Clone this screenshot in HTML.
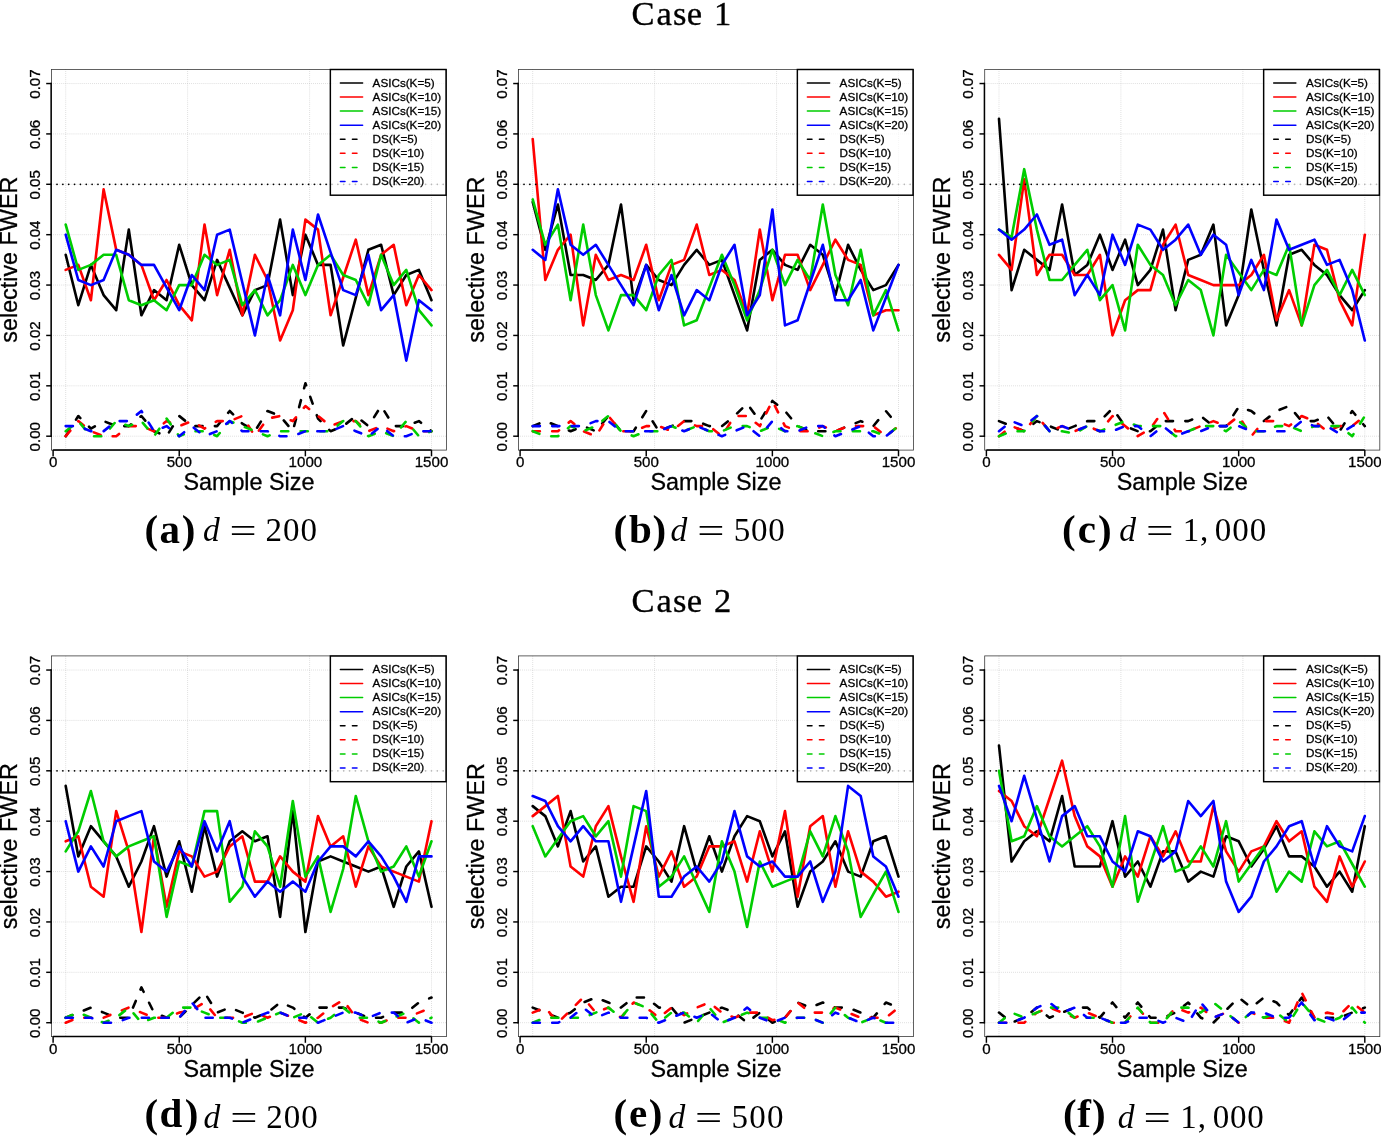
<!DOCTYPE html>
<html><head><meta charset="utf-8"><title>Selective FWER</title>
<style>
html,body{margin:0;padding:0;background:#fff}
svg{display:block}
.sans{font-family:"Liberation Sans",Arial,sans-serif;fill:#000}
.serif{font-family:"Liberation Serif","DejaVu Serif",serif;fill:#000}
.grid{stroke:#b4b4b4;stroke-width:0.75;stroke-dasharray:0.55 1.48;fill:none}
.s{fill:none;stroke-width:2.62;stroke-linejoin:round;stroke-linecap:round}
.d{fill:none;stroke-width:2.6;stroke-linejoin:round;stroke-linecap:round;stroke-dasharray:7.2 12.3}
.ax{stroke:#000;stroke-width:1.46;fill:none}
.tk{font-size:15.1px;stroke:#000;stroke-width:0.3px}
.lab{font-size:23.35px;stroke:#000;stroke-width:0.3px}
.lg{font-size:11.7px;stroke:#000;stroke-width:0.3px}
</style></head><body>
<svg width="1381" height="1141" viewBox="0 0 1381 1141">
<rect width="1381" height="1141" fill="#fff"/>
<text class="serif" font-size="34.5px" stroke="#000" stroke-width="0.35" y="25.2" x="631.6 656.4 672.9 686.8 705 714.1">Case 1</text>
<g transform="translate(0,0)">
<line class="grid" x1="51.4" x2="446.5" y1="436.20" y2="436.20"/><line class="grid" x1="51.4" x2="446.5" y1="385.82" y2="385.82"/><line class="grid" x1="51.4" x2="446.5" y1="335.44" y2="335.44"/><line class="grid" x1="51.4" x2="446.5" y1="285.06" y2="285.06"/><line class="grid" x1="51.4" x2="446.5" y1="234.68" y2="234.68"/><line class="grid" x1="51.4" x2="446.5" y1="184.30" y2="184.30"/><line class="grid" x1="51.4" x2="446.5" y1="133.92" y2="133.92"/><line class="grid" x1="51.4" x2="446.5" y1="83.54" y2="83.54"/><line class="grid" x1="65.7" x2="65.7" y1="69.4" y2="450.1"/><line class="grid" x1="187.6" x2="187.6" y1="69.4" y2="450.1"/><line class="grid" x1="309.6" x2="309.6" y1="69.4" y2="450.1"/><line class="grid" x1="431.5" x2="431.5" y1="69.4" y2="450.1"/>
<rect x="51.4" y="69.4" width="395.1" height="380.70000000000005" fill="none" stroke="#3a3a3a" stroke-width="0.8"/>
<polyline class="s" stroke="#000000" points="65.7,254.8 78.3,305.2 90.9,264.9 103.6,295.1 116.2,310.2 128.8,229.6 141.4,315.3 154.0,290.1 166.6,300.2 179.2,244.8 191.8,285.1 204.5,300.2 217.1,259.9 229.7,287.6 242.3,315.3 254.9,290.1 267.5,285.1 280.1,219.6 292.8,295.1 305.4,234.7 318.0,264.9 330.6,264.9 343.2,345.5 355.8,297.7 368.4,249.8 381.1,244.8 393.7,295.1 406.3,275.0 418.9,269.9 431.5,300.2"/>
<polyline class="s" stroke="#ff0000" points="65.7,269.9 78.3,264.9 90.9,300.2 103.6,189.3 116.2,249.8 128.8,254.8 141.4,264.9 154.0,300.2 166.6,280.0 179.2,305.2 191.8,320.3 204.5,224.6 217.1,295.1 229.7,249.8 242.3,315.3 254.9,254.8 267.5,280.0 280.1,340.5 292.8,310.2 305.4,219.6 318.0,229.6 330.6,315.3 343.2,277.5 355.8,239.7 368.4,295.1 381.1,254.8 393.7,244.8 406.3,305.2 418.9,275.0 431.5,290.1"/>
<polyline class="s" stroke="#00cd00" points="65.7,224.6 78.3,269.9 90.9,264.9 103.6,254.8 116.2,254.8 128.8,300.2 141.4,305.2 154.0,300.2 166.6,310.2 179.2,285.1 191.8,285.1 204.5,254.8 217.1,264.9 229.7,259.9 242.3,305.2 254.9,290.1 267.5,315.3 280.1,300.2 292.8,264.9 305.4,295.1 318.0,264.9 330.6,254.8 343.2,275.0 355.8,280.0 368.4,305.2 381.1,254.8 393.7,285.1 406.3,269.9 418.9,310.2 431.5,325.4"/>
<polyline class="s" stroke="#0000ff" points="65.7,234.7 78.3,280.0 90.9,285.1 103.6,280.0 116.2,249.8 128.8,254.8 141.4,264.9 154.0,264.9 166.6,287.6 179.2,310.2 191.8,275.0 204.5,290.1 217.1,234.7 229.7,229.6 242.3,282.5 254.9,335.4 267.5,275.0 280.1,315.3 292.8,229.6 305.4,280.0 318.0,214.5 330.6,252.3 343.2,290.1 355.8,295.1 368.4,254.8 381.1,310.2 393.7,295.1 406.3,360.6 418.9,300.2 431.5,310.2"/>
<polyline class="d" stroke="#000000" points="65.7,436.2 78.3,416.0 90.9,428.6 103.6,421.1 116.2,426.1 128.8,426.1 141.4,416.0 154.0,431.2 166.6,436.2 179.2,416.0 191.8,426.1 204.5,426.1 217.1,426.1 229.7,411.0 242.3,423.6 254.9,431.2 267.5,411.0 280.1,416.0 292.8,431.2 305.4,383.3 318.0,418.6 330.6,431.2 343.2,426.1 355.8,416.0 368.4,426.1 381.1,406.0 393.7,426.1 406.3,426.1 418.9,421.1 431.5,431.2"/>
<polyline class="d" stroke="#ff0000" points="65.7,436.2 78.3,421.1 90.9,431.2 103.6,436.2 116.2,436.2 128.8,426.1 141.4,426.1 154.0,431.2 166.6,421.1 179.2,426.1 191.8,421.1 204.5,428.6 217.1,421.1 229.7,421.1 242.3,416.0 254.9,436.2 267.5,418.6 280.1,416.0 292.8,421.1 305.4,406.0 318.0,416.0 330.6,426.1 343.2,421.1 355.8,421.1 368.4,431.2 381.1,426.1 393.7,431.2 406.3,426.1 418.9,431.2 431.5,431.2"/>
<polyline class="d" stroke="#00cd00" points="65.7,431.2 78.3,421.1 90.9,436.2 103.6,436.2 116.2,421.1 128.8,426.1 141.4,421.1 154.0,436.2 166.6,418.6 179.2,436.2 191.8,431.2 204.5,431.2 217.1,436.2 229.7,421.1 242.3,426.1 254.9,431.2 267.5,436.2 280.1,431.2 292.8,431.2 305.4,431.2 318.0,431.2 330.6,431.2 343.2,421.1 355.8,421.1 368.4,436.2 381.1,431.2 393.7,436.2 406.3,421.1 418.9,436.2 431.5,431.2"/>
<polyline class="d" stroke="#0000ff" points="65.7,426.1 78.3,426.1 90.9,431.2 103.6,431.2 116.2,421.1 128.8,421.1 141.4,411.0 154.0,431.2 166.6,426.1 179.2,436.2 191.8,426.1 204.5,436.2 217.1,431.2 229.7,421.1 242.3,431.2 254.9,431.2 267.5,431.2 280.1,436.2 292.8,436.2 305.4,431.2 318.0,431.2 330.6,431.2 343.2,426.1 355.8,431.2 368.4,436.2 381.1,426.1 393.7,436.2 406.3,436.2 418.9,431.2 431.5,431.2"/>
<line x1="51.15" x2="446.5" y1="184.30" y2="184.30" stroke="#000" stroke-width="1.75" stroke-linecap="round" stroke-dasharray="0.01 5.841"/>
<rect x="330.35" y="69.5" width="115.7" height="125.7" fill="#fff" fill-opacity="0.72" stroke="#000" stroke-width="1.46"/>
<line x1="340.4" x2="362.6" y1="83.0" y2="83.0" stroke="#000000" stroke-width="1.5" stroke-linecap="round"/><text class="sans lg" transform="translate(372.6,86.5)">ASICs(K=5)</text>
<line x1="340.4" x2="362.6" y1="97.1" y2="97.1" stroke="#ff0000" stroke-width="1.5" stroke-linecap="round"/><text class="sans lg" transform="translate(372.6,100.6)">ASICs(K=10)</text>
<line x1="340.4" x2="362.6" y1="111.1" y2="111.1" stroke="#00cd00" stroke-width="1.5" stroke-linecap="round"/><text class="sans lg" transform="translate(372.6,114.6)">ASICs(K=15)</text>
<line x1="340.4" x2="362.6" y1="125.2" y2="125.2" stroke="#0000ff" stroke-width="1.5" stroke-linecap="round"/><text class="sans lg" transform="translate(372.6,128.7)">ASICs(K=20)</text>
<line x1="340.4" x2="362.6" y1="139.2" y2="139.2" stroke="#000000" stroke-width="1.5" stroke-linecap="round" stroke-dasharray="4.6 7.4"/><text class="sans lg" transform="translate(372.6,142.7)">DS(K=5)</text>
<line x1="340.4" x2="362.6" y1="153.3" y2="153.3" stroke="#ff0000" stroke-width="1.5" stroke-linecap="round" stroke-dasharray="4.6 7.4"/><text class="sans lg" transform="translate(372.6,156.8)">DS(K=10)</text>
<line x1="340.4" x2="362.6" y1="167.4" y2="167.4" stroke="#00cd00" stroke-width="1.5" stroke-linecap="round" stroke-dasharray="4.6 7.4"/><text class="sans lg" transform="translate(372.6,170.9)">DS(K=15)</text>
<line x1="340.4" x2="362.6" y1="181.4" y2="181.4" stroke="#0000ff" stroke-width="1.5" stroke-linecap="round" stroke-dasharray="4.6 7.4"/><text class="sans lg" transform="translate(372.6,184.9)">DS(K=20)</text>
<path class="ax" d="M51.1 436.90V82.84"/><path class="ax" d="M46.199999999999996 436.20H51.4"/><text class="sans tk" text-anchor="middle" transform="translate(40.1,436.70) rotate(-90)">0.00</text><path class="ax" d="M46.199999999999996 385.82H51.4"/><text class="sans tk" text-anchor="middle" transform="translate(40.1,386.32) rotate(-90)">0.01</text><path class="ax" d="M46.199999999999996 335.44H51.4"/><text class="sans tk" text-anchor="middle" transform="translate(40.1,335.94) rotate(-90)">0.02</text><path class="ax" d="M46.199999999999996 285.06H51.4"/><text class="sans tk" text-anchor="middle" transform="translate(40.1,285.56) rotate(-90)">0.03</text><path class="ax" d="M46.199999999999996 234.68H51.4"/><text class="sans tk" text-anchor="middle" transform="translate(40.1,235.18) rotate(-90)">0.04</text><path class="ax" d="M46.199999999999996 184.30H51.4"/><text class="sans tk" text-anchor="middle" transform="translate(40.1,184.80) rotate(-90)">0.05</text><path class="ax" d="M46.199999999999996 133.92H51.4"/><text class="sans tk" text-anchor="middle" transform="translate(40.1,134.42) rotate(-90)">0.06</text><path class="ax" d="M46.199999999999996 83.54H51.4"/><text class="sans tk" text-anchor="middle" transform="translate(40.1,84.04) rotate(-90)">0.07</text>
<path class="ax" d="M53.10 450.1H431.50"/><path class="ax" d="M53.10 450.1v6.2"/><text class="sans tk" text-anchor="middle" transform="translate(53.10,467.4)">0</text><path class="ax" d="M179.23 450.1v6.2"/><text class="sans tk" text-anchor="middle" transform="translate(179.23,467.4)">500</text><path class="ax" d="M305.37 450.1v6.2"/><text class="sans tk" text-anchor="middle" transform="translate(305.37,467.4)">1000</text><path class="ax" d="M431.50 450.1v6.2"/><text class="sans tk" text-anchor="middle" transform="translate(431.50,467.4)">1500</text>
<text class="sans lab" text-anchor="middle" transform="translate(248.9,490)">Sample Size</text>
<text class="sans lab" text-anchor="middle" transform="translate(17.0,259.7) rotate(-90)">selective FWER</text>
<text class="serif" font-size="41.0px" font-weight="bold" y="543.2" x="144.56 159.50 181.81">(a)</text><text class="serif" font-size="33.6px" font-style="italic" x="202.90" y="541.3">d</text><text class="serif" font-size="36.5px" transform="translate(229.47,543.40) scale(1.318,1)">=</text><text class="serif" font-size="33px" letter-spacing="1.01" x="265.58" y="541.3">200</text>
</g>
<g transform="translate(467,0)">
<line class="grid" x1="51.4" x2="446.5" y1="436.20" y2="436.20"/><line class="grid" x1="51.4" x2="446.5" y1="385.82" y2="385.82"/><line class="grid" x1="51.4" x2="446.5" y1="335.44" y2="335.44"/><line class="grid" x1="51.4" x2="446.5" y1="285.06" y2="285.06"/><line class="grid" x1="51.4" x2="446.5" y1="234.68" y2="234.68"/><line class="grid" x1="51.4" x2="446.5" y1="184.30" y2="184.30"/><line class="grid" x1="51.4" x2="446.5" y1="133.92" y2="133.92"/><line class="grid" x1="51.4" x2="446.5" y1="83.54" y2="83.54"/><line class="grid" x1="65.7" x2="65.7" y1="69.4" y2="450.1"/><line class="grid" x1="187.6" x2="187.6" y1="69.4" y2="450.1"/><line class="grid" x1="309.6" x2="309.6" y1="69.4" y2="450.1"/><line class="grid" x1="431.5" x2="431.5" y1="69.4" y2="450.1"/>
<rect x="51.4" y="69.4" width="395.1" height="380.70000000000005" fill="none" stroke="#3a3a3a" stroke-width="0.8"/>
<polyline class="s" stroke="#000000" points="65.7,201.9 78.3,249.8 90.9,204.5 103.6,275.0 116.2,275.0 128.8,280.0 141.4,264.9 154.0,204.5 166.6,300.2 179.2,264.9 191.8,280.0 204.5,285.1 217.1,264.9 229.7,249.8 242.3,264.9 254.9,259.9 267.5,295.1 280.1,330.4 292.8,259.9 305.4,249.8 318.0,264.9 330.6,269.9 343.2,244.8 355.8,254.8 368.4,295.1 381.1,244.8 393.7,269.9 406.3,290.1 418.9,285.1 431.5,264.9"/>
<polyline class="s" stroke="#ff0000" points="65.7,139.0 78.3,280.0 90.9,249.8 103.6,234.7 116.2,325.4 128.8,254.8 141.4,280.0 154.0,275.0 166.6,280.0 179.2,244.8 191.8,300.2 204.5,264.9 217.1,259.9 229.7,224.6 242.3,275.0 254.9,269.9 267.5,280.0 280.1,315.3 292.8,229.6 305.4,300.2 318.0,254.8 330.6,254.8 343.2,290.1 355.8,264.9 368.4,239.7 381.1,259.9 393.7,264.9 406.3,315.3 418.9,310.2 431.5,310.2"/>
<polyline class="s" stroke="#00cd00" points="65.7,199.4 78.3,244.8 90.9,224.6 103.6,300.2 116.2,224.6 128.8,295.1 141.4,330.4 154.0,295.1 166.6,295.1 179.2,310.2 191.8,275.0 204.5,259.9 217.1,325.4 229.7,320.3 242.3,287.6 254.9,254.8 267.5,285.1 280.1,320.3 292.8,290.1 305.4,249.8 318.0,285.1 330.6,259.9 343.2,280.0 355.8,204.5 368.4,275.0 381.1,305.2 393.7,249.8 406.3,315.3 418.9,290.1 431.5,330.4"/>
<polyline class="s" stroke="#0000ff" points="65.7,249.8 78.3,259.9 90.9,189.3 103.6,244.8 116.2,254.8 128.8,244.8 141.4,264.9 154.0,285.1 166.6,305.2 179.2,264.9 191.8,310.2 204.5,275.0 217.1,315.3 229.7,290.1 242.3,300.2 254.9,264.9 267.5,244.8 280.1,315.3 292.8,295.1 305.4,209.5 318.0,325.4 330.6,320.3 343.2,282.5 355.8,244.8 368.4,300.2 381.1,300.2 393.7,280.0 406.3,330.4 418.9,297.7 431.5,264.9"/>
<polyline class="d" stroke="#000000" points="65.7,426.1 78.3,421.1 90.9,426.1 103.6,431.2 116.2,426.1 128.8,431.2 141.4,416.0 154.0,431.2 166.6,431.2 179.2,411.0 191.8,431.2 204.5,426.1 217.1,421.1 229.7,421.1 242.3,426.1 254.9,426.1 267.5,416.0 280.1,403.5 292.8,421.1 305.4,400.9 318.0,411.0 330.6,426.1 343.2,431.2 355.8,431.2 368.4,431.2 381.1,426.1 393.7,421.1 406.3,426.1 418.9,411.0 431.5,426.1"/>
<polyline class="d" stroke="#ff0000" points="65.7,431.2 78.3,431.2 90.9,431.2 103.6,421.1 116.2,431.2 128.8,436.2 141.4,416.0 154.0,431.2 166.6,431.2 179.2,426.1 191.8,426.1 204.5,431.2 217.1,421.1 229.7,426.1 242.3,426.1 254.9,436.2 267.5,416.0 280.1,416.0 292.8,426.1 305.4,400.9 318.0,426.1 330.6,431.2 343.2,431.2 355.8,426.1 368.4,431.2 381.1,426.1 393.7,426.1 406.3,426.1 418.9,436.2 431.5,426.1"/>
<polyline class="d" stroke="#00cd00" points="65.7,431.2 78.3,436.2 90.9,436.2 103.6,426.1 116.2,431.2 128.8,426.1 141.4,416.0 154.0,431.2 166.6,436.2 179.2,431.2 191.8,431.2 204.5,426.1 217.1,431.2 229.7,426.1 242.3,431.2 254.9,431.2 267.5,426.1 280.1,426.1 292.8,431.2 305.4,426.1 318.0,431.2 330.6,426.1 343.2,431.2 355.8,436.2 368.4,431.2 381.1,431.2 393.7,431.2 406.3,431.2 418.9,436.2 431.5,426.1"/>
<polyline class="d" stroke="#0000ff" points="65.7,426.1 78.3,426.1 90.9,426.1 103.6,426.1 116.2,426.1 128.8,421.1 141.4,421.1 154.0,431.2 166.6,431.2 179.2,431.2 191.8,431.2 204.5,426.1 217.1,431.2 229.7,426.1 242.3,431.2 254.9,436.2 267.5,431.2 280.1,426.1 292.8,436.2 305.4,421.1 318.0,431.2 330.6,431.2 343.2,426.1 355.8,426.1 368.4,436.2 381.1,431.2 393.7,426.1 406.3,436.2 418.9,436.2 431.5,426.1"/>
<line x1="51.15" x2="446.5" y1="184.30" y2="184.30" stroke="#000" stroke-width="1.75" stroke-linecap="round" stroke-dasharray="0.01 5.841"/>
<rect x="330.35" y="69.5" width="115.7" height="125.7" fill="#fff" fill-opacity="0.72" stroke="#000" stroke-width="1.46"/>
<line x1="340.4" x2="362.6" y1="83.0" y2="83.0" stroke="#000000" stroke-width="1.5" stroke-linecap="round"/><text class="sans lg" transform="translate(372.6,86.5)">ASICs(K=5)</text>
<line x1="340.4" x2="362.6" y1="97.1" y2="97.1" stroke="#ff0000" stroke-width="1.5" stroke-linecap="round"/><text class="sans lg" transform="translate(372.6,100.6)">ASICs(K=10)</text>
<line x1="340.4" x2="362.6" y1="111.1" y2="111.1" stroke="#00cd00" stroke-width="1.5" stroke-linecap="round"/><text class="sans lg" transform="translate(372.6,114.6)">ASICs(K=15)</text>
<line x1="340.4" x2="362.6" y1="125.2" y2="125.2" stroke="#0000ff" stroke-width="1.5" stroke-linecap="round"/><text class="sans lg" transform="translate(372.6,128.7)">ASICs(K=20)</text>
<line x1="340.4" x2="362.6" y1="139.2" y2="139.2" stroke="#000000" stroke-width="1.5" stroke-linecap="round" stroke-dasharray="4.6 7.4"/><text class="sans lg" transform="translate(372.6,142.7)">DS(K=5)</text>
<line x1="340.4" x2="362.6" y1="153.3" y2="153.3" stroke="#ff0000" stroke-width="1.5" stroke-linecap="round" stroke-dasharray="4.6 7.4"/><text class="sans lg" transform="translate(372.6,156.8)">DS(K=10)</text>
<line x1="340.4" x2="362.6" y1="167.4" y2="167.4" stroke="#00cd00" stroke-width="1.5" stroke-linecap="round" stroke-dasharray="4.6 7.4"/><text class="sans lg" transform="translate(372.6,170.9)">DS(K=15)</text>
<line x1="340.4" x2="362.6" y1="181.4" y2="181.4" stroke="#0000ff" stroke-width="1.5" stroke-linecap="round" stroke-dasharray="4.6 7.4"/><text class="sans lg" transform="translate(372.6,184.9)">DS(K=20)</text>
<path class="ax" d="M51.1 436.90V82.84"/><path class="ax" d="M46.199999999999996 436.20H51.4"/><text class="sans tk" text-anchor="middle" transform="translate(40.1,436.70) rotate(-90)">0.00</text><path class="ax" d="M46.199999999999996 385.82H51.4"/><text class="sans tk" text-anchor="middle" transform="translate(40.1,386.32) rotate(-90)">0.01</text><path class="ax" d="M46.199999999999996 335.44H51.4"/><text class="sans tk" text-anchor="middle" transform="translate(40.1,335.94) rotate(-90)">0.02</text><path class="ax" d="M46.199999999999996 285.06H51.4"/><text class="sans tk" text-anchor="middle" transform="translate(40.1,285.56) rotate(-90)">0.03</text><path class="ax" d="M46.199999999999996 234.68H51.4"/><text class="sans tk" text-anchor="middle" transform="translate(40.1,235.18) rotate(-90)">0.04</text><path class="ax" d="M46.199999999999996 184.30H51.4"/><text class="sans tk" text-anchor="middle" transform="translate(40.1,184.80) rotate(-90)">0.05</text><path class="ax" d="M46.199999999999996 133.92H51.4"/><text class="sans tk" text-anchor="middle" transform="translate(40.1,134.42) rotate(-90)">0.06</text><path class="ax" d="M46.199999999999996 83.54H51.4"/><text class="sans tk" text-anchor="middle" transform="translate(40.1,84.04) rotate(-90)">0.07</text>
<path class="ax" d="M53.10 450.1H431.50"/><path class="ax" d="M53.10 450.1v6.2"/><text class="sans tk" text-anchor="middle" transform="translate(53.10,467.4)">0</text><path class="ax" d="M179.23 450.1v6.2"/><text class="sans tk" text-anchor="middle" transform="translate(179.23,467.4)">500</text><path class="ax" d="M305.37 450.1v6.2"/><text class="sans tk" text-anchor="middle" transform="translate(305.37,467.4)">1000</text><path class="ax" d="M431.50 450.1v6.2"/><text class="sans tk" text-anchor="middle" transform="translate(431.50,467.4)">1500</text>
<text class="sans lab" text-anchor="middle" transform="translate(248.9,490)">Sample Size</text>
<text class="sans lab" text-anchor="middle" transform="translate(17.0,259.7) rotate(-90)">selective FWER</text>
<text class="serif" font-size="41.0px" font-weight="bold" y="543.2" x="146.46 162.04 185.41">(b)</text><text class="serif" font-size="33.6px" font-style="italic" x="203.60" y="541.3">d</text><text class="serif" font-size="36.5px" transform="translate(230.17,543.40) scale(1.324,1)">=</text><text class="serif" font-size="33px" letter-spacing="0.82" x="266.65" y="541.3">500</text>
</g>
<g transform="translate(933.3,0)">
<line class="grid" x1="51.4" x2="446.5" y1="436.20" y2="436.20"/><line class="grid" x1="51.4" x2="446.5" y1="385.82" y2="385.82"/><line class="grid" x1="51.4" x2="446.5" y1="335.44" y2="335.44"/><line class="grid" x1="51.4" x2="446.5" y1="285.06" y2="285.06"/><line class="grid" x1="51.4" x2="446.5" y1="234.68" y2="234.68"/><line class="grid" x1="51.4" x2="446.5" y1="184.30" y2="184.30"/><line class="grid" x1="51.4" x2="446.5" y1="133.92" y2="133.92"/><line class="grid" x1="51.4" x2="446.5" y1="83.54" y2="83.54"/><line class="grid" x1="65.7" x2="65.7" y1="69.4" y2="450.1"/><line class="grid" x1="187.6" x2="187.6" y1="69.4" y2="450.1"/><line class="grid" x1="309.6" x2="309.6" y1="69.4" y2="450.1"/><line class="grid" x1="431.5" x2="431.5" y1="69.4" y2="450.1"/>
<rect x="51.4" y="69.4" width="395.1" height="380.70000000000005" fill="none" stroke="#3a3a3a" stroke-width="0.8"/>
<polyline class="s" stroke="#000000" points="65.7,118.8 78.3,290.1 90.9,249.8 103.6,259.9 116.2,269.9 128.8,204.5 141.4,275.0 154.0,264.9 166.6,234.7 179.2,269.9 191.8,239.7 204.5,285.1 217.1,269.9 229.7,229.6 242.3,310.2 254.9,259.9 267.5,254.8 280.1,224.6 292.8,325.4 305.4,295.1 318.0,209.5 330.6,269.9 343.2,325.4 355.8,254.8 368.4,249.8 381.1,264.9 393.7,275.0 406.3,295.1 418.9,310.2 431.5,290.1"/>
<polyline class="s" stroke="#ff0000" points="65.7,254.8 78.3,269.9 90.9,179.3 103.6,275.0 116.2,254.8 128.8,254.8 141.4,275.0 154.0,275.0 166.6,254.8 179.2,335.4 191.8,300.2 204.5,290.1 217.1,290.1 229.7,244.8 242.3,224.6 254.9,275.0 267.5,280.0 280.1,285.1 292.8,285.1 305.4,285.1 318.0,275.0 330.6,254.8 343.2,320.3 355.8,290.1 368.4,325.4 381.1,244.8 393.7,249.8 406.3,300.2 418.9,325.4 431.5,234.7"/>
<polyline class="s" stroke="#00cd00" points="65.7,229.6 78.3,237.2 90.9,169.2 103.6,229.6 116.2,280.0 128.8,280.0 141.4,264.9 154.0,249.8 166.6,300.2 179.2,285.1 191.8,330.4 204.5,244.8 217.1,264.9 229.7,275.0 242.3,305.2 254.9,280.0 267.5,290.1 280.1,335.4 292.8,254.8 305.4,272.5 318.0,290.1 330.6,269.9 343.2,275.0 355.8,244.8 368.4,325.4 381.1,285.1 393.7,269.9 406.3,295.1 418.9,269.9 431.5,295.1"/>
<polyline class="s" stroke="#0000ff" points="65.7,229.6 78.3,239.7 90.9,229.6 103.6,214.5 116.2,244.8 128.8,239.7 141.4,295.1 154.0,275.0 166.6,295.1 179.2,234.7 191.8,264.9 204.5,224.6 217.1,229.6 229.7,249.8 242.3,239.7 254.9,224.6 267.5,254.8 280.1,234.7 292.8,244.8 305.4,295.1 318.0,259.9 330.6,290.1 343.2,219.6 355.8,249.8 368.4,244.8 381.1,239.7 393.7,264.9 406.3,259.9 418.9,290.1 431.5,340.5"/>
<polyline class="d" stroke="#000000" points="65.7,421.1 78.3,426.1 90.9,431.2 103.6,421.1 116.2,426.1 128.8,431.2 141.4,426.1 154.0,421.1 166.6,421.1 179.2,408.5 191.8,426.1 204.5,431.2 217.1,431.2 229.7,421.1 242.3,421.1 254.9,421.1 267.5,416.0 280.1,426.1 292.8,426.1 305.4,407.0 318.0,411.0 330.6,421.1 343.2,411.0 355.8,406.0 368.4,421.1 381.1,421.1 393.7,416.0 406.3,431.2 418.9,411.0 431.5,426.1"/>
<polyline class="d" stroke="#ff0000" points="65.7,436.2 78.3,426.1 90.9,431.2 103.6,416.0 116.2,431.2 128.8,426.1 141.4,431.2 154.0,426.1 166.6,431.2 179.2,416.0 191.8,426.1 204.5,436.2 217.1,428.6 229.7,411.0 242.3,431.2 254.9,431.2 267.5,426.1 280.1,421.1 292.8,426.1 305.4,416.0 318.0,436.2 330.6,421.1 343.2,421.1 355.8,426.1 368.4,416.0 381.1,421.1 393.7,431.2 406.3,426.1 418.9,426.1 431.5,416.0"/>
<polyline class="d" stroke="#00cd00" points="65.7,436.2 78.3,431.2 90.9,431.2 103.6,416.0 116.2,431.2 128.8,431.2 141.4,433.7 154.0,426.1 166.6,431.2 179.2,426.1 191.8,421.1 204.5,426.1 217.1,426.1 229.7,426.1 242.3,436.2 254.9,431.2 267.5,426.1 280.1,426.1 292.8,431.2 305.4,421.1 318.0,431.2 330.6,431.2 343.2,426.1 355.8,426.1 368.4,431.2 381.1,426.1 393.7,426.1 406.3,426.1 418.9,436.2 431.5,416.0"/>
<polyline class="d" stroke="#0000ff" points="65.7,431.2 78.3,421.1 90.9,426.1 103.6,416.0 116.2,431.2 128.8,426.1 141.4,431.2 154.0,426.1 166.6,431.2 179.2,431.2 191.8,426.1 204.5,426.1 217.1,436.2 229.7,426.1 242.3,436.2 254.9,431.2 267.5,431.2 280.1,426.1 292.8,426.1 305.4,426.1 318.0,431.2 330.6,431.2 343.2,431.2 355.8,431.2 368.4,421.1 381.1,426.1 393.7,426.1 406.3,433.7 418.9,426.1 431.5,421.1"/>
<line x1="51.15" x2="446.5" y1="184.30" y2="184.30" stroke="#000" stroke-width="1.75" stroke-linecap="round" stroke-dasharray="0.01 5.841"/>
<rect x="330.35" y="69.5" width="115.7" height="125.7" fill="#fff" fill-opacity="0.72" stroke="#000" stroke-width="1.46"/>
<line x1="340.4" x2="362.6" y1="83.0" y2="83.0" stroke="#000000" stroke-width="1.5" stroke-linecap="round"/><text class="sans lg" transform="translate(372.6,86.5)">ASICs(K=5)</text>
<line x1="340.4" x2="362.6" y1="97.1" y2="97.1" stroke="#ff0000" stroke-width="1.5" stroke-linecap="round"/><text class="sans lg" transform="translate(372.6,100.6)">ASICs(K=10)</text>
<line x1="340.4" x2="362.6" y1="111.1" y2="111.1" stroke="#00cd00" stroke-width="1.5" stroke-linecap="round"/><text class="sans lg" transform="translate(372.6,114.6)">ASICs(K=15)</text>
<line x1="340.4" x2="362.6" y1="125.2" y2="125.2" stroke="#0000ff" stroke-width="1.5" stroke-linecap="round"/><text class="sans lg" transform="translate(372.6,128.7)">ASICs(K=20)</text>
<line x1="340.4" x2="362.6" y1="139.2" y2="139.2" stroke="#000000" stroke-width="1.5" stroke-linecap="round" stroke-dasharray="4.6 7.4"/><text class="sans lg" transform="translate(372.6,142.7)">DS(K=5)</text>
<line x1="340.4" x2="362.6" y1="153.3" y2="153.3" stroke="#ff0000" stroke-width="1.5" stroke-linecap="round" stroke-dasharray="4.6 7.4"/><text class="sans lg" transform="translate(372.6,156.8)">DS(K=10)</text>
<line x1="340.4" x2="362.6" y1="167.4" y2="167.4" stroke="#00cd00" stroke-width="1.5" stroke-linecap="round" stroke-dasharray="4.6 7.4"/><text class="sans lg" transform="translate(372.6,170.9)">DS(K=15)</text>
<line x1="340.4" x2="362.6" y1="181.4" y2="181.4" stroke="#0000ff" stroke-width="1.5" stroke-linecap="round" stroke-dasharray="4.6 7.4"/><text class="sans lg" transform="translate(372.6,184.9)">DS(K=20)</text>
<path class="ax" d="M51.1 436.90V82.84"/><path class="ax" d="M46.199999999999996 436.20H51.4"/><text class="sans tk" text-anchor="middle" transform="translate(40.1,436.70) rotate(-90)">0.00</text><path class="ax" d="M46.199999999999996 385.82H51.4"/><text class="sans tk" text-anchor="middle" transform="translate(40.1,386.32) rotate(-90)">0.01</text><path class="ax" d="M46.199999999999996 335.44H51.4"/><text class="sans tk" text-anchor="middle" transform="translate(40.1,335.94) rotate(-90)">0.02</text><path class="ax" d="M46.199999999999996 285.06H51.4"/><text class="sans tk" text-anchor="middle" transform="translate(40.1,285.56) rotate(-90)">0.03</text><path class="ax" d="M46.199999999999996 234.68H51.4"/><text class="sans tk" text-anchor="middle" transform="translate(40.1,235.18) rotate(-90)">0.04</text><path class="ax" d="M46.199999999999996 184.30H51.4"/><text class="sans tk" text-anchor="middle" transform="translate(40.1,184.80) rotate(-90)">0.05</text><path class="ax" d="M46.199999999999996 133.92H51.4"/><text class="sans tk" text-anchor="middle" transform="translate(40.1,134.42) rotate(-90)">0.06</text><path class="ax" d="M46.199999999999996 83.54H51.4"/><text class="sans tk" text-anchor="middle" transform="translate(40.1,84.04) rotate(-90)">0.07</text>
<path class="ax" d="M53.10 450.1H431.50"/><path class="ax" d="M53.10 450.1v6.2"/><text class="sans tk" text-anchor="middle" transform="translate(53.10,467.4)">0</text><path class="ax" d="M179.23 450.1v6.2"/><text class="sans tk" text-anchor="middle" transform="translate(179.23,467.4)">500</text><path class="ax" d="M305.37 450.1v6.2"/><text class="sans tk" text-anchor="middle" transform="translate(305.37,467.4)">1000</text><path class="ax" d="M431.50 450.1v6.2"/><text class="sans tk" text-anchor="middle" transform="translate(431.50,467.4)">1500</text>
<text class="sans lab" text-anchor="middle" transform="translate(248.9,490)">Sample Size</text>
<text class="sans lab" text-anchor="middle" transform="translate(17.0,259.7) rotate(-90)">selective FWER</text>
<text class="serif" font-size="41.0px" font-weight="bold" y="543.4" x="128.76 144.43 164.61">(c)</text><text class="serif" font-size="33.6px" font-style="italic" x="185.90" y="541.3">d</text><text class="serif" font-size="36.5px" transform="translate(212.74,543.40) scale(1.341,1)">=</text><text class="serif" font-size="33px" letter-spacing="0.00" x="249.46" y="541.3">1</text><text class="serif" font-size="33px" letter-spacing="0.00" x="266.71" y="541.3">,</text><text class="serif" font-size="33px" letter-spacing="0.99" x="281.51" y="541.3">000</text>
</g>
<text class="serif" font-size="34.5px" stroke="#000" stroke-width="0.35" y="611.7" x="631.6 656.4 672.9 686.8 705 714.1">Case 2</text>
<g transform="translate(0,586.5)">
<line class="grid" x1="51.4" x2="446.5" y1="436.20" y2="436.20"/><line class="grid" x1="51.4" x2="446.5" y1="385.82" y2="385.82"/><line class="grid" x1="51.4" x2="446.5" y1="335.44" y2="335.44"/><line class="grid" x1="51.4" x2="446.5" y1="285.06" y2="285.06"/><line class="grid" x1="51.4" x2="446.5" y1="234.68" y2="234.68"/><line class="grid" x1="51.4" x2="446.5" y1="184.30" y2="184.30"/><line class="grid" x1="51.4" x2="446.5" y1="133.92" y2="133.92"/><line class="grid" x1="51.4" x2="446.5" y1="83.54" y2="83.54"/><line class="grid" x1="65.7" x2="65.7" y1="69.4" y2="450.1"/><line class="grid" x1="187.6" x2="187.6" y1="69.4" y2="450.1"/><line class="grid" x1="309.6" x2="309.6" y1="69.4" y2="450.1"/><line class="grid" x1="431.5" x2="431.5" y1="69.4" y2="450.1"/>
<rect x="51.4" y="69.4" width="395.1" height="380.70000000000005" fill="none" stroke="#3a3a3a" stroke-width="0.8"/>
<polyline class="s" stroke="#000000" points="65.7,199.4 78.3,269.9 90.9,239.7 103.6,254.8 116.2,269.9 128.8,300.2 141.4,275.0 154.0,239.7 166.6,290.1 179.2,254.8 191.8,305.2 204.5,239.7 217.1,290.1 229.7,254.8 242.3,244.8 254.9,254.8 267.5,249.8 280.1,330.4 292.8,224.6 305.4,345.5 318.0,275.0 330.6,269.9 343.2,275.0 355.8,280.0 368.4,285.1 381.1,280.0 393.7,320.3 406.3,280.0 418.9,264.9 431.5,320.3"/>
<polyline class="s" stroke="#ff0000" points="65.7,254.8 78.3,249.8 90.9,300.2 103.6,310.2 116.2,224.6 128.8,264.9 141.4,345.5 154.0,249.8 166.6,320.3 179.2,264.9 191.8,269.9 204.5,290.1 217.1,285.1 229.7,259.9 242.3,249.8 254.9,295.1 267.5,295.1 280.1,269.9 292.8,285.1 305.4,295.1 318.0,229.6 330.6,259.9 343.2,249.8 355.8,300.2 368.4,259.9 381.1,280.0 393.7,285.1 406.3,290.1 418.9,295.1 431.5,234.7"/>
<polyline class="s" stroke="#00cd00" points="65.7,264.9 78.3,244.8 90.9,204.5 103.6,254.8 116.2,269.9 128.8,259.9 141.4,254.8 154.0,249.8 166.6,330.4 179.2,275.0 191.8,280.0 204.5,224.6 217.1,224.6 229.7,315.3 242.3,300.2 254.9,244.8 267.5,259.9 280.1,300.2 292.8,214.5 305.4,290.1 318.0,269.9 330.6,325.4 343.2,282.5 355.8,209.5 368.4,254.8 381.1,285.1 393.7,280.0 406.3,259.9 418.9,290.1 431.5,254.8"/>
<polyline class="s" stroke="#0000ff" points="65.7,234.7 78.3,285.1 90.9,259.9 103.6,280.0 116.2,234.7 128.8,229.6 141.4,224.6 154.0,275.0 166.6,285.1 179.2,259.9 191.8,280.0 204.5,234.7 217.1,264.9 229.7,234.7 242.3,290.1 254.9,310.2 267.5,295.1 280.1,305.2 292.8,295.1 305.4,305.2 318.0,275.0 330.6,259.9 343.2,259.9 355.8,269.9 368.4,254.8 381.1,269.9 393.7,290.1 406.3,315.3 418.9,269.9 431.5,269.9"/>
<polyline class="d" stroke="#000000" points="65.7,431.2 78.3,426.1 90.9,421.1 103.6,426.1 116.2,431.2 128.8,431.2 141.4,400.9 154.0,426.1 166.6,431.2 179.2,431.2 191.8,418.6 204.5,406.0 217.1,426.1 229.7,421.1 242.3,426.1 254.9,431.2 267.5,426.1 280.1,416.0 292.8,421.1 305.4,431.2 318.0,421.1 330.6,421.1 343.2,421.1 355.8,426.1 368.4,431.2 381.1,431.2 393.7,426.1 406.3,426.1 418.9,416.0 431.5,411.0"/>
<polyline class="d" stroke="#ff0000" points="65.7,436.2 78.3,431.2 90.9,431.2 103.6,431.2 116.2,426.1 128.8,421.1 141.4,426.1 154.0,431.2 166.6,431.2 179.2,426.1 191.8,423.6 204.5,416.0 217.1,431.2 229.7,431.2 242.3,431.2 254.9,426.1 267.5,431.2 280.1,426.1 292.8,431.2 305.4,436.2 318.0,431.2 330.6,421.1 343.2,413.5 355.8,431.2 368.4,436.2 381.1,436.2 393.7,431.2 406.3,431.2 418.9,426.1 431.5,421.1"/>
<polyline class="d" stroke="#00cd00" points="65.7,431.2 78.3,426.1 90.9,431.2 103.6,436.2 116.2,431.2 128.8,421.1 141.4,436.2 154.0,431.2 166.6,431.2 179.2,421.1 191.8,421.1 204.5,426.1 217.1,431.2 229.7,431.2 242.3,436.2 254.9,436.2 267.5,431.2 280.1,426.1 292.8,431.2 305.4,426.1 318.0,436.2 330.6,431.2 343.2,421.1 355.8,431.2 368.4,431.2 381.1,436.2 393.7,431.2 406.3,426.1 418.9,436.2 431.5,431.2"/>
<polyline class="d" stroke="#0000ff" points="65.7,431.2 78.3,431.2 90.9,431.2 103.6,436.2 116.2,436.2 128.8,431.2 141.4,431.2 154.0,431.2 166.6,431.2 179.2,431.2 191.8,416.0 204.5,431.2 217.1,431.2 229.7,431.2 242.3,436.2 254.9,431.2 267.5,426.1 280.1,426.1 292.8,431.2 305.4,431.2 318.0,436.2 330.6,431.2 343.2,426.1 355.8,426.1 368.4,431.2 381.1,426.1 393.7,426.1 406.3,436.2 418.9,431.2 431.5,436.2"/>
<line x1="51.15" x2="446.5" y1="184.30" y2="184.30" stroke="#000" stroke-width="1.75" stroke-linecap="round" stroke-dasharray="0.01 5.841"/>
<rect x="330.35" y="69.5" width="115.7" height="125.7" fill="#fff" fill-opacity="0.72" stroke="#000" stroke-width="1.46"/>
<line x1="340.4" x2="362.6" y1="83.0" y2="83.0" stroke="#000000" stroke-width="1.5" stroke-linecap="round"/><text class="sans lg" transform="translate(372.6,86.5)">ASICs(K=5)</text>
<line x1="340.4" x2="362.6" y1="97.1" y2="97.1" stroke="#ff0000" stroke-width="1.5" stroke-linecap="round"/><text class="sans lg" transform="translate(372.6,100.6)">ASICs(K=10)</text>
<line x1="340.4" x2="362.6" y1="111.1" y2="111.1" stroke="#00cd00" stroke-width="1.5" stroke-linecap="round"/><text class="sans lg" transform="translate(372.6,114.6)">ASICs(K=15)</text>
<line x1="340.4" x2="362.6" y1="125.2" y2="125.2" stroke="#0000ff" stroke-width="1.5" stroke-linecap="round"/><text class="sans lg" transform="translate(372.6,128.7)">ASICs(K=20)</text>
<line x1="340.4" x2="362.6" y1="139.2" y2="139.2" stroke="#000000" stroke-width="1.5" stroke-linecap="round" stroke-dasharray="4.6 7.4"/><text class="sans lg" transform="translate(372.6,142.7)">DS(K=5)</text>
<line x1="340.4" x2="362.6" y1="153.3" y2="153.3" stroke="#ff0000" stroke-width="1.5" stroke-linecap="round" stroke-dasharray="4.6 7.4"/><text class="sans lg" transform="translate(372.6,156.8)">DS(K=10)</text>
<line x1="340.4" x2="362.6" y1="167.4" y2="167.4" stroke="#00cd00" stroke-width="1.5" stroke-linecap="round" stroke-dasharray="4.6 7.4"/><text class="sans lg" transform="translate(372.6,170.9)">DS(K=15)</text>
<line x1="340.4" x2="362.6" y1="181.4" y2="181.4" stroke="#0000ff" stroke-width="1.5" stroke-linecap="round" stroke-dasharray="4.6 7.4"/><text class="sans lg" transform="translate(372.6,184.9)">DS(K=20)</text>
<path class="ax" d="M51.1 436.90V82.84"/><path class="ax" d="M46.199999999999996 436.20H51.4"/><text class="sans tk" text-anchor="middle" transform="translate(40.1,436.70) rotate(-90)">0.00</text><path class="ax" d="M46.199999999999996 385.82H51.4"/><text class="sans tk" text-anchor="middle" transform="translate(40.1,386.32) rotate(-90)">0.01</text><path class="ax" d="M46.199999999999996 335.44H51.4"/><text class="sans tk" text-anchor="middle" transform="translate(40.1,335.94) rotate(-90)">0.02</text><path class="ax" d="M46.199999999999996 285.06H51.4"/><text class="sans tk" text-anchor="middle" transform="translate(40.1,285.56) rotate(-90)">0.03</text><path class="ax" d="M46.199999999999996 234.68H51.4"/><text class="sans tk" text-anchor="middle" transform="translate(40.1,235.18) rotate(-90)">0.04</text><path class="ax" d="M46.199999999999996 184.30H51.4"/><text class="sans tk" text-anchor="middle" transform="translate(40.1,184.80) rotate(-90)">0.05</text><path class="ax" d="M46.199999999999996 133.92H51.4"/><text class="sans tk" text-anchor="middle" transform="translate(40.1,134.42) rotate(-90)">0.06</text><path class="ax" d="M46.199999999999996 83.54H51.4"/><text class="sans tk" text-anchor="middle" transform="translate(40.1,84.04) rotate(-90)">0.07</text>
<path class="ax" d="M53.10 450.1H431.50"/><path class="ax" d="M53.10 450.1v6.2"/><text class="sans tk" text-anchor="middle" transform="translate(53.10,467.4)">0</text><path class="ax" d="M179.23 450.1v6.2"/><text class="sans tk" text-anchor="middle" transform="translate(179.23,467.4)">500</text><path class="ax" d="M305.37 450.1v6.2"/><text class="sans tk" text-anchor="middle" transform="translate(305.37,467.4)">1000</text><path class="ax" d="M431.50 450.1v6.2"/><text class="sans tk" text-anchor="middle" transform="translate(431.50,467.4)">1500</text>
<text class="sans lab" text-anchor="middle" transform="translate(248.9,490)">Sample Size</text>
<text class="sans lab" text-anchor="middle" transform="translate(17.0,259.7) rotate(-90)">selective FWER</text>
<text class="serif" font-size="41.0px" font-weight="bold" y="540.1" x="144.56 159.51 184.71">(d)</text><text class="serif" font-size="33.6px" font-style="italic" x="203.60" y="541.1">d</text><text class="serif" font-size="36.5px" transform="translate(230.17,543.20) scale(1.324,1)">=</text><text class="serif" font-size="33px" letter-spacing="1.00" x="266.28" y="541.1">200</text>
</g>
<g transform="translate(467,586.5)">
<line class="grid" x1="51.4" x2="446.5" y1="436.20" y2="436.20"/><line class="grid" x1="51.4" x2="446.5" y1="385.82" y2="385.82"/><line class="grid" x1="51.4" x2="446.5" y1="335.44" y2="335.44"/><line class="grid" x1="51.4" x2="446.5" y1="285.06" y2="285.06"/><line class="grid" x1="51.4" x2="446.5" y1="234.68" y2="234.68"/><line class="grid" x1="51.4" x2="446.5" y1="184.30" y2="184.30"/><line class="grid" x1="51.4" x2="446.5" y1="133.92" y2="133.92"/><line class="grid" x1="51.4" x2="446.5" y1="83.54" y2="83.54"/><line class="grid" x1="65.7" x2="65.7" y1="69.4" y2="450.1"/><line class="grid" x1="187.6" x2="187.6" y1="69.4" y2="450.1"/><line class="grid" x1="309.6" x2="309.6" y1="69.4" y2="450.1"/><line class="grid" x1="431.5" x2="431.5" y1="69.4" y2="450.1"/>
<rect x="51.4" y="69.4" width="395.1" height="380.70000000000005" fill="none" stroke="#3a3a3a" stroke-width="0.8"/>
<polyline class="s" stroke="#000000" points="65.7,219.6 78.3,229.6 90.9,259.9 103.6,224.6 116.2,275.0 128.8,259.9 141.4,310.2 154.0,300.2 166.6,300.2 179.2,259.9 191.8,275.0 204.5,295.1 217.1,239.7 229.7,285.1 242.3,249.8 254.9,285.1 267.5,249.8 280.1,229.6 292.8,234.7 305.4,269.9 318.0,244.8 330.6,320.3 343.2,285.1 355.8,275.0 368.4,254.8 381.1,285.1 393.7,290.1 406.3,254.8 418.9,249.8 431.5,290.1"/>
<polyline class="s" stroke="#ff0000" points="65.7,229.6 78.3,219.6 90.9,209.5 103.6,280.0 116.2,290.1 128.8,239.7 141.4,219.6 154.0,269.9 166.6,315.3 179.2,239.7 191.8,290.1 204.5,264.9 217.1,300.2 229.7,290.1 242.3,259.9 254.9,259.9 267.5,254.8 280.1,295.1 292.8,244.8 305.4,285.1 318.0,224.6 330.6,310.2 343.2,239.7 355.8,229.6 368.4,300.2 381.1,244.8 393.7,285.1 406.3,295.1 418.9,310.2 431.5,305.2"/>
<polyline class="s" stroke="#00cd00" points="65.7,239.7 78.3,269.9 90.9,252.3 103.6,234.7 116.2,229.6 128.8,249.8 141.4,234.7 154.0,290.1 166.6,219.6 179.2,224.6 191.8,300.2 204.5,290.1 217.1,269.9 229.7,297.7 242.3,325.4 254.9,254.8 267.5,285.1 280.1,340.5 292.8,275.0 305.4,300.2 318.0,295.1 330.6,290.1 343.2,244.8 355.8,269.9 368.4,229.6 381.1,264.9 393.7,330.4 406.3,307.7 418.9,285.1 431.5,325.4"/>
<polyline class="s" stroke="#0000ff" points="65.7,209.5 78.3,214.5 90.9,239.7 103.6,254.8 116.2,239.7 128.8,254.8 141.4,254.8 154.0,315.3 166.6,259.9 179.2,204.5 191.8,310.2 204.5,310.2 217.1,290.1 229.7,280.0 242.3,295.1 254.9,275.0 267.5,224.6 280.1,269.9 292.8,280.0 305.4,275.0 318.0,290.1 330.6,290.1 343.2,275.0 355.8,315.3 368.4,285.1 381.1,199.4 393.7,209.5 406.3,269.9 418.9,280.0 431.5,310.2"/>
<polyline class="d" stroke="#000000" points="65.7,421.1 78.3,426.1 90.9,431.2 103.6,426.1 116.2,416.0 128.8,411.0 141.4,416.0 154.0,421.1 166.6,411.0 179.2,411.0 191.8,421.1 204.5,421.1 217.1,436.2 229.7,431.2 242.3,426.1 254.9,421.1 267.5,426.1 280.1,436.2 292.8,426.1 305.4,436.2 318.0,431.2 330.6,416.0 343.2,421.1 355.8,416.0 368.4,421.1 381.1,421.1 393.7,426.1 406.3,431.2 418.9,416.0 431.5,421.1"/>
<polyline class="d" stroke="#ff0000" points="65.7,426.1 78.3,421.1 90.9,436.2 103.6,423.6 116.2,411.0 128.8,426.1 141.4,421.1 154.0,431.2 166.6,416.0 179.2,421.1 191.8,431.2 204.5,421.1 217.1,428.6 229.7,421.1 242.3,416.0 254.9,426.1 267.5,431.2 280.1,426.1 292.8,426.1 305.4,433.7 318.0,431.2 330.6,416.0 343.2,426.1 355.8,426.1 368.4,421.1 381.1,426.1 393.7,431.2 406.3,431.2 418.9,431.2 431.5,421.1"/>
<polyline class="d" stroke="#00cd00" points="65.7,436.2 78.3,431.2 90.9,431.2 103.6,431.2 116.2,431.2 128.8,426.1 141.4,421.1 154.0,431.2 166.6,416.0 179.2,421.1 191.8,436.2 204.5,426.1 217.1,426.1 229.7,436.2 242.3,421.1 254.9,436.2 267.5,431.2 280.1,426.1 292.8,431.2 305.4,431.2 318.0,436.2 330.6,431.2 343.2,431.2 355.8,436.2 368.4,421.1 381.1,431.2 393.7,436.2 406.3,431.2 418.9,436.2 431.5,436.2"/>
<polyline class="d" stroke="#0000ff" points="65.7,436.2 78.3,436.2 90.9,436.2 103.6,431.2 116.2,421.1 128.8,431.2 141.4,426.1 154.0,431.2 166.6,431.2 179.2,431.2 191.8,436.2 204.5,431.2 217.1,426.1 229.7,431.2 242.3,426.1 254.9,436.2 267.5,431.2 280.1,421.1 292.8,431.2 305.4,436.2 318.0,431.2 330.6,431.2 343.2,431.2 355.8,436.2 368.4,426.1 381.1,431.2 393.7,436.2 406.3,431.2 418.9,436.2 431.5,436.2"/>
<line x1="51.15" x2="446.5" y1="184.30" y2="184.30" stroke="#000" stroke-width="1.75" stroke-linecap="round" stroke-dasharray="0.01 5.841"/>
<rect x="330.35" y="69.5" width="115.7" height="125.7" fill="#fff" fill-opacity="0.72" stroke="#000" stroke-width="1.46"/>
<line x1="340.4" x2="362.6" y1="83.0" y2="83.0" stroke="#000000" stroke-width="1.5" stroke-linecap="round"/><text class="sans lg" transform="translate(372.6,86.5)">ASICs(K=5)</text>
<line x1="340.4" x2="362.6" y1="97.1" y2="97.1" stroke="#ff0000" stroke-width="1.5" stroke-linecap="round"/><text class="sans lg" transform="translate(372.6,100.6)">ASICs(K=10)</text>
<line x1="340.4" x2="362.6" y1="111.1" y2="111.1" stroke="#00cd00" stroke-width="1.5" stroke-linecap="round"/><text class="sans lg" transform="translate(372.6,114.6)">ASICs(K=15)</text>
<line x1="340.4" x2="362.6" y1="125.2" y2="125.2" stroke="#0000ff" stroke-width="1.5" stroke-linecap="round"/><text class="sans lg" transform="translate(372.6,128.7)">ASICs(K=20)</text>
<line x1="340.4" x2="362.6" y1="139.2" y2="139.2" stroke="#000000" stroke-width="1.5" stroke-linecap="round" stroke-dasharray="4.6 7.4"/><text class="sans lg" transform="translate(372.6,142.7)">DS(K=5)</text>
<line x1="340.4" x2="362.6" y1="153.3" y2="153.3" stroke="#ff0000" stroke-width="1.5" stroke-linecap="round" stroke-dasharray="4.6 7.4"/><text class="sans lg" transform="translate(372.6,156.8)">DS(K=10)</text>
<line x1="340.4" x2="362.6" y1="167.4" y2="167.4" stroke="#00cd00" stroke-width="1.5" stroke-linecap="round" stroke-dasharray="4.6 7.4"/><text class="sans lg" transform="translate(372.6,170.9)">DS(K=15)</text>
<line x1="340.4" x2="362.6" y1="181.4" y2="181.4" stroke="#0000ff" stroke-width="1.5" stroke-linecap="round" stroke-dasharray="4.6 7.4"/><text class="sans lg" transform="translate(372.6,184.9)">DS(K=20)</text>
<path class="ax" d="M51.1 436.90V82.84"/><path class="ax" d="M46.199999999999996 436.20H51.4"/><text class="sans tk" text-anchor="middle" transform="translate(40.1,436.70) rotate(-90)">0.00</text><path class="ax" d="M46.199999999999996 385.82H51.4"/><text class="sans tk" text-anchor="middle" transform="translate(40.1,386.32) rotate(-90)">0.01</text><path class="ax" d="M46.199999999999996 335.44H51.4"/><text class="sans tk" text-anchor="middle" transform="translate(40.1,335.94) rotate(-90)">0.02</text><path class="ax" d="M46.199999999999996 285.06H51.4"/><text class="sans tk" text-anchor="middle" transform="translate(40.1,285.56) rotate(-90)">0.03</text><path class="ax" d="M46.199999999999996 234.68H51.4"/><text class="sans tk" text-anchor="middle" transform="translate(40.1,235.18) rotate(-90)">0.04</text><path class="ax" d="M46.199999999999996 184.30H51.4"/><text class="sans tk" text-anchor="middle" transform="translate(40.1,184.80) rotate(-90)">0.05</text><path class="ax" d="M46.199999999999996 133.92H51.4"/><text class="sans tk" text-anchor="middle" transform="translate(40.1,134.42) rotate(-90)">0.06</text><path class="ax" d="M46.199999999999996 83.54H51.4"/><text class="sans tk" text-anchor="middle" transform="translate(40.1,84.04) rotate(-90)">0.07</text>
<path class="ax" d="M53.10 450.1H431.50"/><path class="ax" d="M53.10 450.1v6.2"/><text class="sans tk" text-anchor="middle" transform="translate(53.10,467.4)">0</text><path class="ax" d="M179.23 450.1v6.2"/><text class="sans tk" text-anchor="middle" transform="translate(179.23,467.4)">500</text><path class="ax" d="M305.37 450.1v6.2"/><text class="sans tk" text-anchor="middle" transform="translate(305.37,467.4)">1000</text><path class="ax" d="M431.50 450.1v6.2"/><text class="sans tk" text-anchor="middle" transform="translate(431.50,467.4)">1500</text>
<text class="sans lab" text-anchor="middle" transform="translate(248.9,490)">Sample Size</text>
<text class="sans lab" text-anchor="middle" transform="translate(17.0,259.7) rotate(-90)">selective FWER</text>
<text class="serif" font-size="41.0px" font-weight="bold" y="540.1" x="146.46 161.88 181.81">(e)</text><text class="serif" font-size="33.6px" font-style="italic" x="201.40" y="541.1">d</text><text class="serif" font-size="36.5px" transform="translate(227.97,543.20) scale(1.324,1)">=</text><text class="serif" font-size="33px" letter-spacing="1.22" x="264.45" y="541.1">500</text>
</g>
<g transform="translate(933.3,586.5)">
<line class="grid" x1="51.4" x2="446.5" y1="436.20" y2="436.20"/><line class="grid" x1="51.4" x2="446.5" y1="385.82" y2="385.82"/><line class="grid" x1="51.4" x2="446.5" y1="335.44" y2="335.44"/><line class="grid" x1="51.4" x2="446.5" y1="285.06" y2="285.06"/><line class="grid" x1="51.4" x2="446.5" y1="234.68" y2="234.68"/><line class="grid" x1="51.4" x2="446.5" y1="184.30" y2="184.30"/><line class="grid" x1="51.4" x2="446.5" y1="133.92" y2="133.92"/><line class="grid" x1="51.4" x2="446.5" y1="83.54" y2="83.54"/><line class="grid" x1="65.7" x2="65.7" y1="69.4" y2="450.1"/><line class="grid" x1="187.6" x2="187.6" y1="69.4" y2="450.1"/><line class="grid" x1="309.6" x2="309.6" y1="69.4" y2="450.1"/><line class="grid" x1="431.5" x2="431.5" y1="69.4" y2="450.1"/>
<rect x="51.4" y="69.4" width="395.1" height="380.70000000000005" fill="none" stroke="#3a3a3a" stroke-width="0.8"/>
<polyline class="s" stroke="#000000" points="65.7,159.1 78.3,275.0 90.9,254.8 103.6,244.8 116.2,254.8 128.8,209.5 141.4,280.0 154.0,280.0 166.6,280.0 179.2,234.7 191.8,290.1 204.5,275.0 217.1,300.2 229.7,264.9 242.3,264.9 254.9,295.1 267.5,285.1 280.1,290.1 292.8,249.8 305.4,254.8 318.0,280.0 330.6,262.4 343.2,239.7 355.8,269.9 368.4,269.9 381.1,280.0 393.7,300.2 406.3,285.1 418.9,305.2 431.5,239.7"/>
<polyline class="s" stroke="#ff0000" points="65.7,204.5 78.3,214.5 90.9,239.7 103.6,249.8 116.2,212.0 128.8,174.2 141.4,229.6 154.0,259.9 166.6,269.9 179.2,300.2 191.8,269.9 204.5,290.1 217.1,249.8 229.7,269.9 242.3,244.8 254.9,275.0 267.5,275.0 280.1,219.6 292.8,264.9 305.4,285.1 318.0,264.9 330.6,259.9 343.2,234.7 355.8,254.8 368.4,244.8 381.1,300.2 393.7,315.3 406.3,269.9 418.9,300.2 431.5,275.0"/>
<polyline class="s" stroke="#00cd00" points="65.7,184.3 78.3,254.8 90.9,249.8 103.6,219.6 116.2,249.8 128.8,259.9 141.4,249.8 154.0,239.7 166.6,259.9 179.2,300.2 191.8,229.6 204.5,315.3 217.1,277.5 229.7,239.7 242.3,285.1 254.9,280.0 267.5,259.9 280.1,280.0 292.8,234.7 305.4,295.1 318.0,277.5 330.6,259.9 343.2,305.2 355.8,285.1 368.4,295.1 381.1,244.8 393.7,259.9 406.3,254.8 418.9,277.5 431.5,300.2"/>
<polyline class="s" stroke="#0000ff" points="65.7,199.4 78.3,234.7 90.9,189.3 103.6,232.2 116.2,275.0 128.8,229.6 141.4,219.6 154.0,249.8 166.6,249.8 179.2,275.0 191.8,285.1 204.5,244.8 217.1,249.8 229.7,275.0 242.3,264.9 254.9,214.5 267.5,229.6 280.1,214.5 292.8,295.1 305.4,325.4 318.0,310.2 330.6,275.0 343.2,259.9 355.8,239.7 368.4,234.7 381.1,280.0 393.7,239.7 406.3,259.9 418.9,264.9 431.5,229.6"/>
<polyline class="d" stroke="#000000" points="65.7,426.1 78.3,436.2 90.9,431.2 103.6,421.1 116.2,431.2 128.8,426.1 141.4,421.1 154.0,421.1 166.6,431.2 179.2,416.0 191.8,431.2 204.5,416.0 217.1,431.2 229.7,431.2 242.3,426.1 254.9,416.0 267.5,431.2 280.1,436.2 292.8,423.6 305.4,411.0 318.0,421.1 330.6,411.0 343.2,416.0 355.8,428.6 368.4,411.0 381.1,431.2 393.7,431.2 406.3,431.2 418.9,426.1 431.5,421.1"/>
<polyline class="d" stroke="#ff0000" points="65.7,436.2 78.3,436.2 90.9,436.2 103.6,426.1 116.2,421.1 128.8,426.1 141.4,431.2 154.0,426.1 166.6,431.2 179.2,436.2 191.8,436.2 204.5,421.1 217.1,436.2 229.7,436.2 242.3,421.1 254.9,426.1 267.5,421.1 280.1,431.2 292.8,426.1 305.4,436.2 318.0,426.1 330.6,431.2 343.2,431.2 355.8,436.2 368.4,406.0 381.1,431.2 393.7,426.1 406.3,428.6 418.9,416.0 431.5,426.1"/>
<polyline class="d" stroke="#00cd00" points="65.7,436.2 78.3,426.1 90.9,431.2 103.6,426.1 116.2,421.1 128.8,421.1 141.4,431.2 154.0,431.2 166.6,431.2 179.2,436.2 191.8,436.2 204.5,421.1 217.1,436.2 229.7,436.2 242.3,421.1 254.9,421.1 267.5,426.1 280.1,416.0 292.8,426.1 305.4,436.2 318.0,426.1 330.6,431.2 343.2,426.1 355.8,436.2 368.4,416.0 381.1,431.2 393.7,436.2 406.3,431.2 418.9,421.1 431.5,436.2"/>
<polyline class="d" stroke="#0000ff" points="65.7,436.2 78.3,436.2 90.9,431.2 103.6,421.1 116.2,416.0 128.8,426.1 141.4,421.1 154.0,431.2 166.6,431.2 179.2,436.2 191.8,436.2 204.5,431.2 217.1,431.2 229.7,436.2 242.3,431.2 254.9,436.2 267.5,416.0 280.1,431.2 292.8,426.1 305.4,436.2 318.0,426.1 330.6,426.1 343.2,431.2 355.8,431.2 368.4,416.0 381.1,433.7 393.7,431.2 406.3,436.2 418.9,426.1 431.5,426.1"/>
<line x1="51.15" x2="446.5" y1="184.30" y2="184.30" stroke="#000" stroke-width="1.75" stroke-linecap="round" stroke-dasharray="0.01 5.841"/>
<rect x="330.35" y="69.5" width="115.7" height="125.7" fill="#fff" fill-opacity="0.72" stroke="#000" stroke-width="1.46"/>
<line x1="340.4" x2="362.6" y1="83.0" y2="83.0" stroke="#000000" stroke-width="1.5" stroke-linecap="round"/><text class="sans lg" transform="translate(372.6,86.5)">ASICs(K=5)</text>
<line x1="340.4" x2="362.6" y1="97.1" y2="97.1" stroke="#ff0000" stroke-width="1.5" stroke-linecap="round"/><text class="sans lg" transform="translate(372.6,100.6)">ASICs(K=10)</text>
<line x1="340.4" x2="362.6" y1="111.1" y2="111.1" stroke="#00cd00" stroke-width="1.5" stroke-linecap="round"/><text class="sans lg" transform="translate(372.6,114.6)">ASICs(K=15)</text>
<line x1="340.4" x2="362.6" y1="125.2" y2="125.2" stroke="#0000ff" stroke-width="1.5" stroke-linecap="round"/><text class="sans lg" transform="translate(372.6,128.7)">ASICs(K=20)</text>
<line x1="340.4" x2="362.6" y1="139.2" y2="139.2" stroke="#000000" stroke-width="1.5" stroke-linecap="round" stroke-dasharray="4.6 7.4"/><text class="sans lg" transform="translate(372.6,142.7)">DS(K=5)</text>
<line x1="340.4" x2="362.6" y1="153.3" y2="153.3" stroke="#ff0000" stroke-width="1.5" stroke-linecap="round" stroke-dasharray="4.6 7.4"/><text class="sans lg" transform="translate(372.6,156.8)">DS(K=10)</text>
<line x1="340.4" x2="362.6" y1="167.4" y2="167.4" stroke="#00cd00" stroke-width="1.5" stroke-linecap="round" stroke-dasharray="4.6 7.4"/><text class="sans lg" transform="translate(372.6,170.9)">DS(K=15)</text>
<line x1="340.4" x2="362.6" y1="181.4" y2="181.4" stroke="#0000ff" stroke-width="1.5" stroke-linecap="round" stroke-dasharray="4.6 7.4"/><text class="sans lg" transform="translate(372.6,184.9)">DS(K=20)</text>
<path class="ax" d="M51.1 436.90V82.84"/><path class="ax" d="M46.199999999999996 436.20H51.4"/><text class="sans tk" text-anchor="middle" transform="translate(40.1,436.70) rotate(-90)">0.00</text><path class="ax" d="M46.199999999999996 385.82H51.4"/><text class="sans tk" text-anchor="middle" transform="translate(40.1,386.32) rotate(-90)">0.01</text><path class="ax" d="M46.199999999999996 335.44H51.4"/><text class="sans tk" text-anchor="middle" transform="translate(40.1,335.94) rotate(-90)">0.02</text><path class="ax" d="M46.199999999999996 285.06H51.4"/><text class="sans tk" text-anchor="middle" transform="translate(40.1,285.56) rotate(-90)">0.03</text><path class="ax" d="M46.199999999999996 234.68H51.4"/><text class="sans tk" text-anchor="middle" transform="translate(40.1,235.18) rotate(-90)">0.04</text><path class="ax" d="M46.199999999999996 184.30H51.4"/><text class="sans tk" text-anchor="middle" transform="translate(40.1,184.80) rotate(-90)">0.05</text><path class="ax" d="M46.199999999999996 133.92H51.4"/><text class="sans tk" text-anchor="middle" transform="translate(40.1,134.42) rotate(-90)">0.06</text><path class="ax" d="M46.199999999999996 83.54H51.4"/><text class="sans tk" text-anchor="middle" transform="translate(40.1,84.04) rotate(-90)">0.07</text>
<path class="ax" d="M53.10 450.1H431.50"/><path class="ax" d="M53.10 450.1v6.2"/><text class="sans tk" text-anchor="middle" transform="translate(53.10,467.4)">0</text><path class="ax" d="M179.23 450.1v6.2"/><text class="sans tk" text-anchor="middle" transform="translate(179.23,467.4)">500</text><path class="ax" d="M305.37 450.1v6.2"/><text class="sans tk" text-anchor="middle" transform="translate(305.37,467.4)">1000</text><path class="ax" d="M431.50 450.1v6.2"/><text class="sans tk" text-anchor="middle" transform="translate(431.50,467.4)">1500</text>
<text class="sans lab" text-anchor="middle" transform="translate(248.9,490)">Sample Size</text>
<text class="sans lab" text-anchor="middle" transform="translate(17.0,259.7) rotate(-90)">selective FWER</text>
<text class="serif" font-size="41.0px" font-weight="bold" y="540.0" x="129.66 143.93 158.61">(f)</text><text class="serif" font-size="33.6px" font-style="italic" x="184.50" y="541.0">d</text><text class="serif" font-size="36.5px" transform="translate(210.16,543.10) scale(1.330,1)">=</text><text class="serif" font-size="33px" letter-spacing="0.00" x="246.96" y="541.0">1</text><text class="serif" font-size="33px" letter-spacing="0.00" x="264.41" y="541.0">,</text><text class="serif" font-size="33px" letter-spacing="0.79" x="279.41" y="541.0">000</text>
</g>
</svg>
</body></html>
